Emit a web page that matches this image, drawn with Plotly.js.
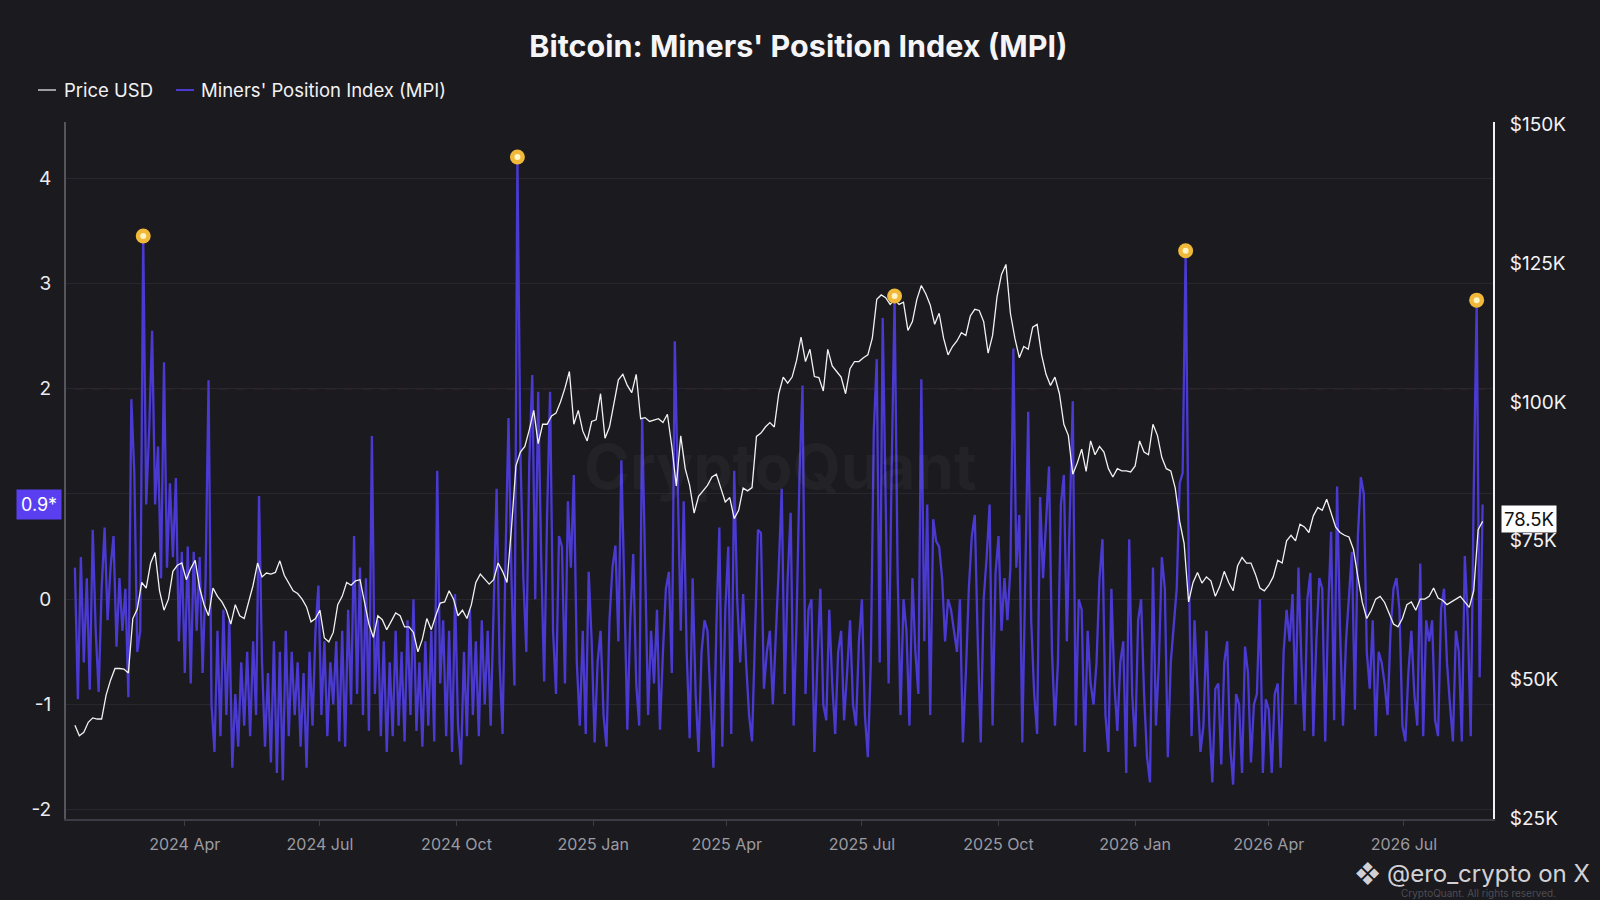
<!DOCTYPE html>
<html>
<head>
<meta charset="utf-8">
<script src="https://cdn.plot.ly/plotly-3.0.1.min.js"></script>
<style>
  html, body { margin: 0; padding: 0; background: #1b1a1f; }
  #chart { width: 1600px; height: 900px; }
</style>
</head>
<body>
<div id="chart"></div>
<script>
// ---------------- DATA ----------------
const mpiStartDate = '2024-01-18';   // first MPI observation
const mpiStepDays = 2;               // MPI sampled every 2 days
const mpiValues = [
  0.3, -0.95, 0.4, -0.6, 0.2, -0.86, 0.66, -0.3, -0.88, 0.1,
  0.68, -0.2, 0.3, 0.6, -0.45, 0.2, -0.3, 0.1, -0.93, 1.9,
  1.2, -0.5, -0.3, 3.45, 0.9, 1.6, 2.55, 0.9, 1.45, 0.2,
  2.25, 0.3, 1.1, 0.4, 1.15, -0.4, 0.45, -0.7, 0.5, -0.8,
  0.45, -0.3, 0.4, -0.7, 0.2, 2.08, -1.0, -1.45, -0.3, -1.3,
  -0.1, -1.1, -0.2, -1.6, -0.9, -1.4, -0.6, -1.2, -0.5, -1.3,
  -0.4, -1.1, 0.98, -0.6, -1.4, -0.7, -1.55, -0.4, -1.65, -0.5,
  -1.72, -0.3, -1.3, -0.5, -1.1, -0.6, -1.4, -0.7, -1.6, -0.5,
  -1.2, -0.3, 0.13, -1.1, -0.4, -1.3, -0.6, -1.0, -0.4, -1.35,
  -0.3, -1.4, -0.1, -1.0, 0.6,
  -0.9, 0.3, -1.1, 0.2, -1.25, 1.55, -0.9, -0.2, -1.3, -0.4,
  -1.45, -0.6, -1.3, -0.3, -1.2, -0.5, -1.35, -0.2, -1.1, 0.0,
  -1.25, -0.6, -1.4, -0.4, -1.2, -0.3, -1.35, 1.22, -0.8, -0.2,
  -1.3, -0.3, -1.45, 0.05, -1.2, -1.57, -0.5, -1.3, -0.1, -1.1,
  -0.4, -1.3, -0.2, -1.0, -0.3, -1.2, -0.1, 1.05, -0.6, -1.28,
  0.4, 1.72, 0.2, -0.82, 4.2, 1.4, 0.2, -0.5, 1.3, 2.13,
  0.0, 1.97, 0.4, -0.78, 0.8, 1.97, -0.3, -0.9, 0.6, 0.5,
  -0.8, 0.93, 0.3, 1.18, -0.6, -1.2, -0.3, -1.28, 0.26, -0.4,
  -1.36, -0.6, -0.3, -1.1, -1.4, -0.2, 0.3, 0.51, -0.4, 1.32,
  0.1, -1.24, -0.2, 0.43,
  -0.8, -1.2, 1.72, 0.25, -1.1, -0.3, -0.8, -0.1, -1.24, -0.5,
  0.1, 0.26, -0.7, 2.45, 0.89, -0.3, 0.93, -0.5, -1.32, 0.2,
  -0.9, -1.45, -0.5, -0.2, -0.3, -1.0, -1.6, -0.25, 0.68, -1.4,
  -0.1, 0.5, -1.28, 1.22, 0.0, -0.6, 0.05, -0.6, -1.1, -1.35,
  -0.2, 0.66, 0.63, -0.85, -0.5, -0.3, -1.0, -0.4, 0.3, 1.05,
  -0.9, 0.2, 0.82, -1.2, -0.2, 1.2, 2.03, -0.9, -0.1, 0.0,
  -1.45, -0.6, 0.1, -1.0, -1.15, -0.1, -0.8, -1.28, -0.5, -0.3,
  -1.15, -0.7, -0.2, -1.0, -1.2, -0.4, 0.0, -1.1, -1.5, -0.6,
  1.6, 2.28, -0.6, 2.67, 1.0, -0.8, 1.2, 2.88, 0.3, -1.1,
  0.0, -0.3, -1.2, 0.2,
  -0.5, -0.9, 2.09, -0.4, 0.9, -1.1, 0.76, 0.55, 0.5, 0.2,
  -0.4, 0.0, -0.1, -0.3, -0.5, 0.0, -1.36, -0.7, 0.1, 0.6,
  0.8, -0.4, -1.36, 0.0, 0.4, 0.9, -1.2, 0.25, 0.6, -0.3,
  0.2, -0.2, 0.3, 2.38, 0.3, 0.8, -1.36, 0.2, 1.78, -0.2,
  -0.9, -1.28, 0.97, 0.2, 0.8, 1.26, -0.5, -1.2, -0.6, 0.9,
  1.18, -0.4, 0.8, 1.88, -1.2, 0.0, -0.1, -1.45, -0.3, -0.8,
  -1.0, -0.6, 0.2, 0.57, -1.1, -1.45, 0.1, -0.8, -1.25, -0.6,
  -0.4, -1.65, 0.57, -0.9, -1.4, -0.2, 0.0, -0.9, -1.5, -1.74,
  0.3, -1.2, -0.6, 0.4, 0.1, -1.5, -0.6, -0.2, 0.1, 1.1,
  1.2, 3.31, 0.5, -1.3,
  -0.2, -0.85, -1.45, -1.2, -0.3, -1.2, -1.74, -0.85, -0.8, -1.57,
  -0.6, -0.4, -1.4, -1.76, -0.9, -1.0, -1.65, -0.45, -0.7, -1.55,
  -1.0, -0.9, 0.0, -1.65, -0.95, -1.05, -1.65, -0.9, -0.8, -1.6,
  -0.5, -0.1, -0.4, 0.05, -1.0, 0.3, -0.6, -1.25, 0.0, 0.25,
  -1.3, -0.4, 0.2, 0.1, -1.35, -0.1, 0.64, -1.15, 1.07, -0.3,
  -1.2, -0.4, 0.0, 0.45, -1.05, 0.6, 1.16, 1.0, -0.5, -0.85,
  -0.2, -1.3, -0.5, -0.6, -0.8, -1.1, -0.3, 0.1, 0.2, -0.1,
  -1.2, -1.35, -0.7, -0.3, -0.9, -1.2, 0.34, -1.3, -0.2, -0.4,
  -0.2, -1.15, -1.3, -0.1, 0.1, -0.6, -1.0, -1.35, -0.3, -0.5,
  -1.35, 0.41, -0.2,
  -1.3, 1.0, 2.84, -0.74, 0.9
];

const priceStartDate = '2024-01-18';  // first price observation
const priceStepDays = 3;              // price sampled every 3 days
const priceK = [                      // Price USD, thousands
  41.8, 39.9, 40.5, 42.3, 43.1, 42.9, 42.9, 47.2, 49.9, 52.0,
  52.0, 51.9, 51.2, 61.0, 62.7, 67.5, 66.5, 71.0, 72.9, 66.0,
  62.5, 64.5, 69.5, 70.6, 71.0, 68.0, 70.0, 71.5, 66.5, 63.5,
  61.5, 66.5, 65.0, 64.0, 62.5, 60.0, 63.5, 61.5, 61.0, 64.0,
  67.0, 71.0, 68.5, 69.2, 69.0, 69.3, 71.4, 68.8, 67.5, 66.0,
  65.5, 64.5, 63.1, 60.4, 61.0, 62.5, 57.5, 56.8, 58.5, 63.5,
  65.0, 67.5, 67.0,
  67.8, 68.0, 64.0, 60.0, 57.6, 61.5, 60.8, 59.0, 60.5, 62.0,
  61.5, 59.5, 59.5, 58.5, 55.0, 57.3, 61.0, 59.0, 61.5, 63.8,
  64.0, 66.0, 64.5, 61.5, 62.5, 61.0, 63.5, 67.5, 69.0, 68.0,
  67.2, 68.0, 71.0, 69.5, 67.5, 77.3, 88.5, 91.0, 92.0, 95.0,
  98.5, 92.5, 96.0, 96.0, 97.5, 98.0, 100.0, 102.5, 105.5, 96.0,
  98.5, 94.8, 93.0, 96.5, 96.8, 101.5, 93.5, 95.5, 100.0, 104.0,
  105.0, 103.0, 101.7,
  105.0, 97.0, 97.2, 96.5, 96.8, 97.0, 96.3, 97.8, 92.0, 84.9,
  93.9, 88.0, 85.0, 80.0, 83.0, 84.0, 85.0, 86.5, 87.0, 84.5,
  82.0, 82.8, 79.0, 80.5, 84.5, 84.0, 84.6, 93.8, 94.4, 95.5,
  96.3, 95.5, 101.5, 104.5, 103.4, 104.5, 107.5, 111.7, 107.3, 109.5,
  104.6, 104.4, 102.0, 109.5, 106.5, 105.5, 104.5, 101.5, 106.0, 107.3,
  107.3, 108.0, 108.5, 111.5, 118.5, 119.3, 118.8, 117.6, 118.5, 117.6,
  118.0, 112.9, 114.5,
  118.5, 121.0, 119.5, 117.5, 114.0, 116.0, 111.5, 108.5, 110.0, 111.0,
  112.5, 112.0, 115.5, 116.7, 116.5, 114.5, 108.8, 112.0, 119.0, 123.0,
  124.8, 116.0, 111.5, 108.0, 110.0, 109.5, 113.5, 114.0, 108.5, 105.0,
  103.0, 104.5, 101.5, 96.0, 94.0, 87.0, 89.0, 91.5, 87.5, 93.0,
  90.5, 92.0, 91.0, 88.0, 86.5, 88.0, 87.6, 87.6, 87.4, 88.5,
  93.0, 91.0, 90.5, 96.0, 94.0, 90.0, 88.0, 87.6, 84.5, 78.5,
  74.5, 64.0, 67.5,
  69.3, 67.4, 68.5, 67.8, 65.0, 66.8, 69.5, 67.5, 66.0, 70.5,
  72.0, 71.0, 71.0, 69.0, 66.5, 66.0, 67.0, 68.5, 71.5, 71.0,
  75.0, 76.0, 75.0, 78.0, 77.5, 76.5, 79.5, 81.0, 80.5, 82.5,
  79.8, 77.5, 76.5, 76.0, 75.7, 73.5, 68.5, 63.9, 61.0, 62.5,
  64.5, 65.0, 63.9, 62.0, 60.0, 59.5, 61.0, 63.5, 64.0, 62.5,
  64.5, 64.5, 65.0, 66.5, 64.7, 64.3, 63.5, 64.0, 64.5, 65.0,
  64.0, 63.0,
  66.0, 77.0, 78.5
];

// highlighted MPI spikes (indices into mpiValues)
const peakIdx = [23, 149, 276, 374, 472];

// axis ticks
const xTickDates = ['2024-04-01','2024-07-01','2024-10-01','2025-01-01','2025-04-01',
                    '2025-07-01','2025-10-01','2026-01-01','2026-04-01','2026-07-01'];
const xTickLabels = ['2024 Apr','2024 Jul','2024 Oct','2025 Jan','2025 Apr',
                     '2025 Jul','2025 Oct','2026 Jan','2026 Apr','2026 Jul'];
const mpiTicks = [-2, -1, 0, 1, 2, 3, 4];
const mpiTickLabels = ['-2', '-1', '0', '', '2', '3', '4']; // "1" sits under the current-value badge
const priceTicks = [25, 50, 75, 100, 125, 150];
const priceTickLabels = ['$25K','$50K','$75K','$100K','$125K','$150K'];
const mpiUpper = 2;   // red reference line
const mpiLower = -1;  // green reference line

// ---------------- BUILD ----------------
function dateSeq(start, step, n) {
  const p = start.split('-').map(Number);
  const t0 = Date.UTC(p[0], p[1] - 1, p[2]);
  const out = [];
  for (let i = 0; i < n; i++) {
    out.push(new Date(t0 + i * step * 86400000).toISOString().slice(0, 10));
  }
  return out;
}
const mpiDates = dateSeq(mpiStartDate, mpiStepDays, mpiValues.length);
const priceDates = dateSeq(priceStartDate, priceStepDays, priceK.length);
const peakDates = peakIdx.map(i => mpiDates[i]);
const peakVals = peakIdx.map(i => mpiValues[i]);
const lastMpi = mpiValues[mpiValues.length - 1];
const lastPrice = priceK[priceK.length - 1];

const FONT = 'Inter, "Open Sans", Roboto, sans-serif';
const PURPLE = '#4a3ad2';
const BG = '#1b1a1f';

// plot-area pixel geometry helpers (for paper-referenced decorations)
const L = 66, R = 1493, T = 122, B = 819;
const px = x => (x - L) / (R - L);
const py = y => (B - y) / (B - T);

const traces = [
  { x: mpiDates, y: mpiValues, type: 'scatter', mode: 'lines', name: "Miners' Position Index (MPI)",
    line: { color: PURPLE, width: 2.3 }, yaxis: 'y', hoverinfo: 'skip', showlegend: false },
  { x: priceDates, y: priceK, type: 'scatter', mode: 'lines', name: 'Price USD',
    line: { color: '#f2f2f2', width: 1.3 }, yaxis: 'y2', hoverinfo: 'skip', showlegend: false },
  { x: peakDates, y: peakVals, type: 'scatter', mode: 'markers', yaxis: 'y3',
    marker: { color: '#f0b93a', size: 15 }, hoverinfo: 'skip', showlegend: false },
  { x: peakDates, y: peakVals, type: 'scatter', mode: 'markers', yaxis: 'y3',
    marker: { color: '#fff4c4', size: 6 }, hoverinfo: 'skip', showlegend: false }
];

const mpiRange = [-2.087, 4.532];

const layout = {
  width: 1600, height: 900,
  paper_bgcolor: BG, plot_bgcolor: BG,
  margin: { l: L, r: 1600 - R, t: T, b: 900 - B, pad: 0 },
  font: { family: FONT, color: '#e8e8ea' },
  showlegend: false,
  title: {
    text: "<b>Bitcoin: Miners' Position Index (MPI)</b>",
    font: { family: FONT, size: 30.5, color: '#f5f5f7' },
    x: 0.499, xref: 'container', xanchor: 'center',
    y: 1 - 46 / 900, yref: 'container', yanchor: 'middle'
  },
  xaxis: {
    type: 'date', range: ['2024-01-12', '2026-08-30'],
    tickmode: 'array', tickvals: xTickDates, ticktext: xTickLabels,
    tickfont: { family: FONT, size: 16, color: '#9b9ba2' },
    showgrid: false, zeroline: false,
    showline: true, linecolor: '#3c3c44', linewidth: 1.5,
    ticks: 'outside', ticklen: 5, tickcolor: '#3c3c44', ticklabelstandoff: 5
  },
  yaxis: {
    range: mpiRange, tickmode: 'array', tickvals: mpiTicks, ticktext: mpiTickLabels,
    tickfont: { family: FONT, size: 19, color: '#ececee' },
    gridcolor: '#27272d', gridwidth: 1, zeroline: false,
    showline: true, linecolor: '#55555c', linewidth: 2,
    ticks: '', ticklabelstandoff: 9
  },
  yaxis2: {
    overlaying: 'y', side: 'right', range: [24.89, 150.45],
    tickmode: 'array', tickvals: priceTicks, ticktext: priceTickLabels,
    tickfont: { family: FONT, size: 19, color: '#f2f2f4' },
    showgrid: false, zeroline: false,
    showline: true, linecolor: '#f2f2f2', linewidth: 2,
    ticks: '', ticklabelstandoff: 11
  },
  yaxis3: {
    overlaying: 'y', side: 'left', range: mpiRange, visible: false,
    showgrid: false, zeroline: false
  },
  shapes: [
    { type: 'line', xref: 'paper', x0: px(74), x1: px(1486), yref: 'y', y0: mpiUpper, y1: mpiUpper,
      line: { color: '#a8404a', width: 1, dash: 'dash' }, layer: 'below' },
    { type: 'line', xref: 'paper', x0: px(74), x1: px(1486), yref: 'y', y0: mpiLower, y1: mpiLower,
      line: { color: '#4f8a3c', width: 1, dash: 'dash' }, layer: 'below' },
    // legend swatches
    { type: 'line', xref: 'paper', yref: 'paper', x0: px(38), x1: px(56), y0: py(90), y1: py(90),
      line: { color: '#9c9ca2', width: 2 } },
    { type: 'line', xref: 'paper', yref: 'paper', x0: px(176), x1: px(194), y0: py(90), y1: py(90),
      line: { color: PURPLE, width: 2 } }
  ],
  annotations: [
    { text: 'CryptoQuant', xref: 'paper', yref: 'paper', x: px(780), y: py(466),
      showarrow: false, font: { family: FONT, size: 62, color: 'rgba(255,255,255,0.035)', weight: 700 } },
    { text: 'Price USD', xref: 'paper', yref: 'paper', x: px(62), y: py(90), xanchor: 'left', yanchor: 'middle',
      showarrow: false, font: { family: FONT, size: 18.5, color: '#f2f2f4' } },
    { text: "Miners' Position Index (MPI)", xref: 'paper', yref: 'paper', x: px(199), y: py(90),
      xanchor: 'left', yanchor: 'middle', showarrow: false, font: { family: FONT, size: 18.5, color: '#f2f2f4' } },
    { text: lastMpi.toFixed(1) + '*', xref: 'paper', yref: 'y', x: px(38.5), y: lastMpi,
      xanchor: 'center', yanchor: 'middle', showarrow: false, bgcolor: '#5a3ff0', borderpad: 4,
      font: { family: FONT, size: 18, color: '#ffffff' } },
    { text: lastPrice.toFixed(1) + 'K', xref: 'paper', yref: 'y2', x: px(1529), y: lastPrice,
      xanchor: 'center', yanchor: 'middle', yshift: 2, showarrow: false, bgcolor: '#ffffff', borderpad: 2,
      font: { family: FONT, size: 18.5, color: '#111111' } },
    { text: 'CryptoQuant. All rights reserved.', xref: 'paper', yref: 'paper', x: px(1478), y: py(893),
      xanchor: 'center', yanchor: 'middle', showarrow: false,
      font: { family: FONT, size: 10, color: 'rgba(200,200,210,0.3)' } },
    { text: '❖ @ero_crypto on X', xref: 'paper', yref: 'paper', x: px(1592), y: py(873),
      xanchor: 'right', yanchor: 'middle', showarrow: false,
      font: { family: FONT, size: 24, color: 'rgba(235,235,240,0.9)' } }
  ]
};

Plotly.newPlot('chart', traces, layout, { staticPlot: true, displayModeBar: false });
</script>
</body>
</html>
